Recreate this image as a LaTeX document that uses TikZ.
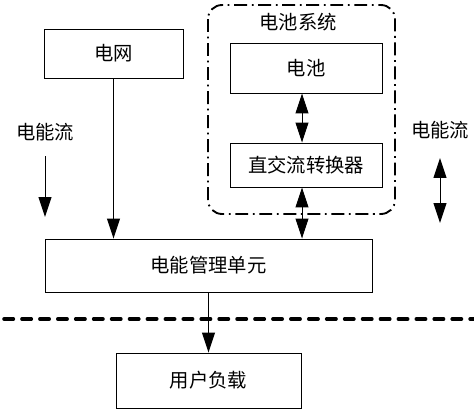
\documentclass[tikz,border=0pt]{standalone}
\usepackage{fontspec}
\setmainfont{Noto Sans CJK SC}
\usetikzlibrary{arrows.meta}

\begin{document}
\begin{tikzpicture}[x=0.03cm, y=-0.03cm, font=\fontsize{16.5}{19}\selectfont,
        box/.style={draw, line width=0.8pt, inner sep=0pt},
        flow/.style={line width=0.8pt, -{Triangle[length=17pt, width=11pt]}},
        flows/.style={line width=0.8pt, {Triangle[length=17pt, width=11pt]}-{Triangle[length=17pt, width=11pt]}}]
            \useasboundingbox (0,0) rectangle (474,414);
            % battery system frame
            \draw[line width=1.6pt, rounded corners=12pt, dash pattern=on 11pt off 4pt on 1.5pt off 4pt] (208,5) rectangle (395,214);
            \node (sys) at (298,22) {电池系统};
            \node[box, minimum width=4.17cm, minimum height=1.47cm] (grid) at (113.5,53.5) {电网};
            \node[box, minimum width=4.56cm, minimum height=1.5cm] (battery) at (306,68) {电池};
            \node[box, minimum width=4.56cm, minimum height=1.32cm] (conv) at (306,165) {直交流转换器};
            \node[box, minimum width=9.81cm, minimum height=1.59cm] (emu) at (208.5,265.5) {电能管理单元};
            \node[box, minimum width=5.55cm, minimum height=1.65cm] (load) at (208.5,380.5) {用户负载};
            \coordinate (bus) at (302,0);
            \draw[flow] (grid.south) -- (grid.south |- emu.north);
            \draw[flows] (battery.south -| bus) -- (conv.north -| bus);
            \draw[flows] (conv.south -| bus) -- (emu.north -| bus);
            \draw[line width=3pt, line cap=round, dash pattern=on 8pt off 7.3pt] (4,319) -- (474,319);
            \draw[flow] (emu.south) -- (load.north);
            % legend
            \node (flowl) at (45,132) {电能流};
            \node (flowr) at (440,130) {电能流};
            \coordinate (la) at (45,156);
            \coordinate (lb) at (45,217);
            \coordinate (ra) at (440,158);
            \coordinate (rb) at (440,223);
            \draw[flow] (la) -- (lb);
            \draw[flows] (ra) -- (rb);
        \end{tikzpicture}
\end{document}
